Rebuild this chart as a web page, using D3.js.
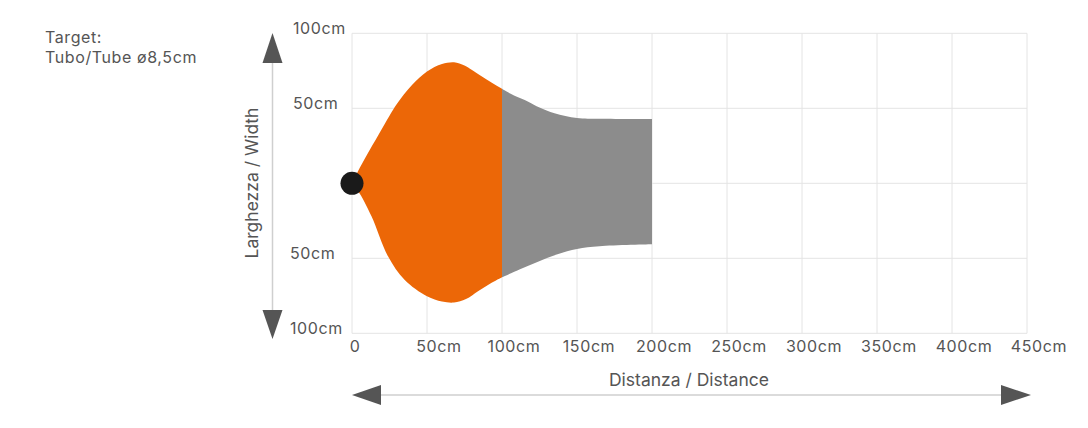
<!DOCTYPE html>
<html>
<head>
<meta charset="utf-8">
<script src="https://cdn.jsdelivr.net/npm/d3@7"></script>
<style>
  html, body { margin: 0; padding: 0; background: #fff; }
  svg { display: block; }
  text { font-family: Inter, "Open Sans", sans-serif; fill: #555; }
</style>
</head>
<body>
<svg id="chart" width="1088" height="428"></svg>
<script>
// ---- data ----
const xTicks = [0, 50, 100, 150, 200, 250, 300, 350, 400, 450];
const xTickLabels = ["0", "50cm", "100cm", "150cm", "200cm", "250cm", "300cm", "350cm", "400cm", "450cm"];
const yTicks = [100, 50, -50, -100];
const yTickLabels = ["100cm", "50cm", "50cm", "100cm"];
const yGrid = [100, 50, 0, -50, -100];

// orange zone (0-100cm): distance, upper half-width, lower half-width
const orangeUpperX = [0, 4, 10, 17.5, 25, 30, 40, 50, 60, 68, 75, 80, 90, 100];
const orangeUpperY = [0, 8, 19, 32, 45, 53, 65.5, 74.5, 79.5, 80.7, 78.5, 75.5, 69, 63];
const orangeLowerX = [0, 4, 13, 24, 35, 50, 60, 68, 76, 84, 92, 100];
const orangeLowerY = [0, -5, -22, -48.7, -64.3, -75.3, -78.8, -79.5, -77.2, -72, -67, -62.7];

// grey zone (100-200cm)
const greyUpperX = [100, 108, 117.5, 125, 135, 150, 165, 200];
const greyUpperY = [63, 58.5, 54.4, 50.5, 46.7, 43.5, 43, 42.9];
const greyLowerX = [100, 112, 124, 137, 150, 165, 200];
const greyLowerY = [-62.7, -57.3, -52.3, -47.3, -43.8, -42, -40.7];

const targetLines = ["Target:", "Tubo/Tube ø8,5cm"];
const xTitle = "Distanza / Distance";
const yTitle = "Larghezza / Width";

// ---- layout ----
const svg = d3.select("#chart");
const x = d3.scaleLinear().domain([0, 450]).range([352, 1027]);
const y = d3.scaleLinear().domain([-100, 100]).range([333.3, 33.3]);

// grid
svg.append("g").selectAll("line").data(xTicks).join("line")
  .attr("x1", d => x(d)).attr("x2", d => x(d))
  .attr("y1", y(100)).attr("y2", y(-100))
  .attr("stroke", "#e4e4e4").attr("stroke-width", 1);
svg.append("g").selectAll("line").data(yGrid).join("line")
  .attr("x1", x(0)).attr("x2", x(450))
  .attr("y1", d => y(d)).attr("y2", d => y(d))
  .attr("stroke", "#e4e4e4").attr("stroke-width", 1);

function drawZone(ux, uy, lx, ly, color) {
  const upperPts = ux.map((d, i) => [x(d), y(uy[i])]);
  const lowerPts = lx.map((d, i) => [x(d), y(ly[i])]).reverse();
  const curve = d3.curveCatmullRom.alpha(0.5);
  const upPath = d3.line().curve(curve)(upperPts);
  const lowPath = d3.line().curve(curve)(lowerPts);
  const d = upPath + "L" + lowPath.slice(1) + "Z";
  svg.append("path").attr("d", d).attr("fill", color);
}
drawZone(greyUpperX, greyUpperY, greyLowerX, greyLowerY, "#8c8c8c");
drawZone(orangeUpperX, orangeUpperY, orangeLowerX, orangeLowerY, "#ec6707");

// origin dot
svg.append("circle").attr("cx", x(0)).attr("cy", y(0)).attr("r", 11.5).attr("fill", "#1a1a1a");

// x tick labels
svg.append("g").selectAll("text").data(xTicks).join("text")
  .attr("x", (d, i) => i === 0 ? x(d) + 3 : x(d) + 12)
  .attr("y", 352)
  .attr("text-anchor", "middle")
  .attr("font-size", 16)
  .attr("letter-spacing", 0.6)
  .text((d, i) => xTickLabels[i]);

// y tick labels
svg.append("g").selectAll("text").data(yTicks).join("text")
  .attr("x", d => d > 0 ? 293 : 290)
  .attr("y", d => y(d) - 4)
  .attr("dominant-baseline", "middle")
  .attr("font-size", 16)
  .attr("letter-spacing", 0.6)
  .text((d, i) => yTickLabels[i]);

// target text
svg.append("g").selectAll("text").data(targetLines).join("text")
  .attr("x", 45).attr("y", (d, i) => 43 + i * 20)
  .attr("font-size", 16)
  .attr("letter-spacing", 0.6)
  .text(d => d);

// y-axis arrow
const yArrowX = 272.5;
svg.append("line").attr("x1", yArrowX).attr("x2", yArrowX).attr("y1", 55).attr("y2", 318)
  .attr("stroke", "#cfcfcf").attr("stroke-width", 1.5);
svg.append("path").attr("d", `M${yArrowX},33 L${yArrowX + 10},63 L${yArrowX - 10},63 Z`).attr("fill", "#555");
svg.append("path").attr("d", `M${yArrowX},339 L${yArrowX + 10},310 L${yArrowX - 10},310 Z`).attr("fill", "#555");
svg.append("text")
  .attr("transform", `translate(258,183) rotate(-90)`)
  .attr("text-anchor", "middle")
  .attr("font-family", "Roboto, sans-serif")
  .attr("font-size", 17.5)
  .text(yTitle);

// x-axis arrow
const xArrowY = 395;
svg.append("line").attr("x1", 375).attr("x2", 1008).attr("y1", xArrowY).attr("y2", xArrowY)
  .attr("stroke", "#cfcfcf").attr("stroke-width", 1.5);
svg.append("path").attr("d", `M352,${xArrowY} L381,${xArrowY - 10} L381,${xArrowY + 10} Z`).attr("fill", "#555");
svg.append("path").attr("d", `M1031,${xArrowY} L1001,${xArrowY - 10} L1001,${xArrowY + 10} Z`).attr("fill", "#555");
svg.append("text")
  .attr("x", 689).attr("y", 386)
  .attr("text-anchor", "middle")
  .attr("font-family", "Roboto, sans-serif")
  .attr("font-size", 17.5)
  .text(xTitle);
</script>
</body>
</html>
